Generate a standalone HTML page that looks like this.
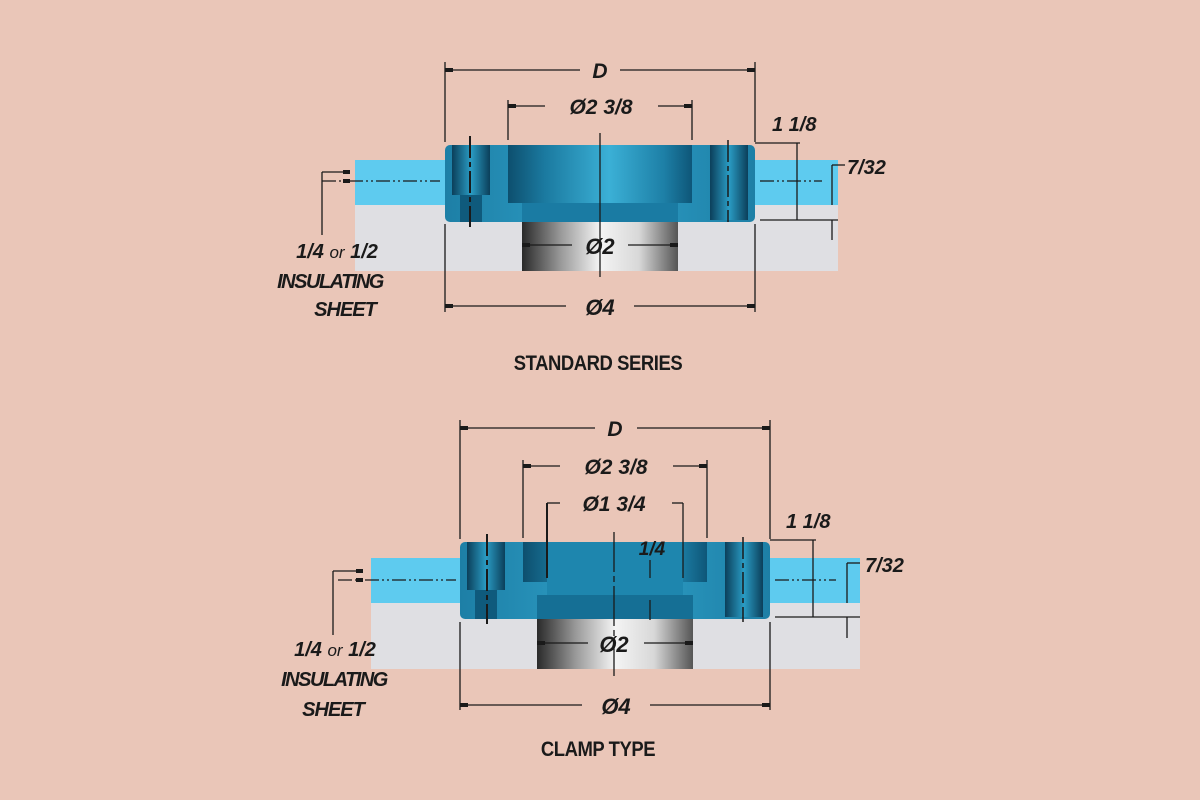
<!DOCTYPE html>
<html><head><meta charset="utf-8"><style>
html,body{margin:0;padding:0;background:#eac6b8;}
svg{display:block}
text{font-family:"Liberation Sans",sans-serif;font-style:italic;font-weight:bold;fill:#1a1a1a}
</style></head><body>
<svg width="1200" height="800" viewBox="0 0 1200 800" xmlns="http://www.w3.org/2000/svg">
<defs>
<linearGradient id="fl" x1="0" x2="1" y1="0" y2="0">
<stop offset="0" stop-color="#1d7fa6"/><stop offset="0.5" stop-color="#2fa0c8"/><stop offset="1" stop-color="#1d7fa6"/></linearGradient>
<linearGradient id="neck" x1="0" x2="1">
<stop offset="0" stop-color="#0d4f6e"/><stop offset="0.2" stop-color="#1b7aa0"/><stop offset="0.55" stop-color="#3bb0d6"/><stop offset="0.85" stop-color="#1d7fa6"/><stop offset="1" stop-color="#0e5678"/></linearGradient>
<linearGradient id="sil" x1="0" x2="1">
<stop offset="0" stop-color="#2a2a2a"/><stop offset="0.25" stop-color="#9a9a9a"/><stop offset="0.5" stop-color="#f4f4f4"/><stop offset="0.75" stop-color="#d8d8d8"/><stop offset="1" stop-color="#555"/></linearGradient>
<linearGradient id="hole" x1="0" x2="1">
<stop offset="0" stop-color="#0b3f5a"/><stop offset="0.5" stop-color="#2a9cc4"/><stop offset="1" stop-color="#0b3f5a"/></linearGradient>
</defs>

<!-- ===== TOP ===== -->
<rect x="355" y="160" width="483" height="45" fill="#5ecbef"/>
<rect x="355" y="205" width="483" height="66" fill="#dfdfe3"/>
<rect x="445" y="145" width="310" height="77" rx="5" fill="url(#fl)"/>
<rect x="508" y="145" width="184" height="58" fill="url(#neck)"/>
<rect x="522" y="203" width="156" height="19" fill="#1a7ba3"/>
<rect x="522" y="222" width="156" height="49" fill="url(#sil)"/>
<rect x="452" y="145" width="38" height="50" fill="url(#hole)"/>
<rect x="460" y="195" width="22" height="27" fill="#0f5a7c"/>
<rect x="710" y="145" width="38" height="75" fill="url(#hole)"/>
<g stroke="#1a1a1a" stroke-width="1.3" fill="none">
<line x1="445" y1="62" x2="445" y2="142"/><line x1="755" y1="62" x2="755" y2="142"/>
<line x1="445" y1="224" x2="445" y2="312"/><line x1="755" y1="224" x2="755" y2="312"/>
<line x1="445" y1="70" x2="580" y2="70"/><line x1="620" y1="70" x2="755" y2="70"/>
<line x1="508" y1="100" x2="508" y2="140"/><line x1="692" y1="100" x2="692" y2="140"/>
<line x1="508" y1="106" x2="545" y2="106"/><line x1="658" y1="106" x2="692" y2="106"/>
<line x1="522" y1="245" x2="572" y2="245"/><line x1="628" y1="245" x2="678" y2="245"/>
<line x1="445" y1="306" x2="566" y2="306"/><line x1="634" y1="306" x2="755" y2="306"/>
<line x1="600" y1="133" x2="600" y2="277"/>
<line x1="470" y1="136" x2="470" y2="227" stroke-width="2" stroke-dasharray="22 4 5 4"/>
<line x1="728" y1="140" x2="728" y2="222" stroke-width="1.5" stroke-dasharray="22 4 5 4"/>
<line x1="755" y1="143" x2="800" y2="143"/><line x1="797" y1="143" x2="797" y2="220"/>
<line x1="760" y1="220" x2="838" y2="220"/>
<line x1="832" y1="165" x2="845" y2="165"/><line x1="832" y1="165" x2="832" y2="205"/><line x1="832" y1="220" x2="832" y2="240"/>
<line x1="322" y1="181" x2="440" y2="181" stroke-dasharray="14 3 2 3 2 3"/>
<line x1="760" y1="181" x2="822" y2="181" stroke-dasharray="14 3 2 3 2 3"/>
<line x1="322" y1="172" x2="350" y2="172"/><line x1="322" y1="172" x2="322" y2="235"/>
</g>
<g fill="#1a1a1a">
<rect x="445" y="68" width="8" height="4"/><rect x="747" y="68" width="8" height="4"/>
<rect x="508" y="104" width="8" height="4"/><rect x="684" y="104" width="8" height="4"/>
<rect x="522" y="243" width="8" height="4"/><rect x="670" y="243" width="8" height="4"/>
<rect x="445" y="304" width="8" height="4"/><rect x="747" y="304" width="8" height="4"/>
<rect x="343" y="170" width="7" height="4"/><rect x="343" y="179" width="7" height="4"/>
</g>
<text x="600" y="78" font-size="21" text-anchor="middle">D</text>
<text x="601" y="114" font-size="21" text-anchor="middle">Ø2 3/8</text>
<text x="600" y="254" font-size="22" text-anchor="middle">Ø2</text>
<text x="600" y="315" font-size="22" text-anchor="middle">Ø4</text>
<text x="772" y="131" font-size="20">1 1/8</text>
<text x="847" y="174" font-size="20">7/32</text>
<text x="337" y="258" font-size="20" text-anchor="middle">1/4 <tspan font-size="17" font-weight="normal">or</tspan> 1/2</text>
<text x="330" y="288" font-size="20" text-anchor="middle" letter-spacing="-1.5">INSULATING</text>
<text x="345" y="316" font-size="20" text-anchor="middle" letter-spacing="-1">SHEET</text>
<text x="598" y="370" font-size="21" text-anchor="middle" style="font-style:normal" letter-spacing="-0.5" transform="translate(598 0) scale(0.88 1) translate(-598 0)">STANDARD SERIES</text>

<!-- ===== BOTTOM ===== -->
<rect x="371" y="558" width="489" height="45" fill="#5ecbef"/>
<rect x="371" y="603" width="489" height="66" fill="#dfdfe3"/>
<rect x="460" y="542" width="310" height="77" rx="5" fill="url(#fl)"/>
<rect x="523" y="542" width="184" height="40" fill="url(#neck)"/>
<rect x="547" y="542" width="136" height="53" fill="#1e86ae"/>
<rect x="537" y="595" width="156" height="24" fill="#156f95"/>
<rect x="537" y="619" width="156" height="50" fill="url(#sil)"/>
<rect x="467" y="542" width="38" height="48" fill="url(#hole)"/>
<rect x="475" y="590" width="22" height="29" fill="#0f5a7c"/>
<rect x="725" y="542" width="38" height="75" fill="url(#hole)"/>
<g stroke="#1a1a1a" stroke-width="1.3" fill="none">
<line x1="460" y1="420" x2="460" y2="539"/><line x1="770" y1="420" x2="770" y2="539"/>
<line x1="460" y1="622" x2="460" y2="710"/><line x1="770" y1="622" x2="770" y2="710"/>
<line x1="460" y1="428" x2="595" y2="428"/><line x1="637" y1="428" x2="770" y2="428"/>
<line x1="523" y1="460" x2="523" y2="538"/><line x1="707" y1="460" x2="707" y2="538"/>
<line x1="523" y1="466" x2="560" y2="466"/><line x1="673" y1="466" x2="707" y2="466"/>
<line x1="547" y1="503" x2="547" y2="578" stroke-width="2"/><line x1="683" y1="503" x2="683" y2="578"/>
<line x1="547" y1="503" x2="560" y2="503"/><line x1="672" y1="503" x2="683" y2="503"/>
<line x1="537" y1="643" x2="588" y2="643"/><line x1="644" y1="643" x2="693" y2="643"/>
<line x1="460" y1="705" x2="582" y2="705"/><line x1="650" y1="705" x2="770" y2="705"/>
<line x1="614" y1="532" x2="614" y2="676" stroke-dasharray="40 4 6 4"/>
<line x1="487" y1="534" x2="487" y2="624" stroke-width="2" stroke-dasharray="22 4 5 4"/>
<line x1="743" y1="537" x2="743" y2="622" stroke-width="1.5" stroke-dasharray="22 4 5 4"/>
<line x1="650" y1="560" x2="650" y2="578"/><line x1="650" y1="600" x2="650" y2="620"/>
<line x1="770" y1="540" x2="816" y2="540"/><line x1="813" y1="540" x2="813" y2="617"/>
<line x1="775" y1="617" x2="860" y2="617"/>
<line x1="847" y1="563" x2="860" y2="563"/><line x1="847" y1="563" x2="847" y2="603"/><line x1="847" y1="617" x2="847" y2="638"/>
<line x1="338" y1="580" x2="456" y2="580" stroke-dasharray="14 3 2 3 2 3"/>
<line x1="775" y1="580" x2="836" y2="580" stroke-dasharray="14 3 2 3 2 3"/>
<line x1="333" y1="571" x2="363" y2="571"/><line x1="333" y1="571" x2="333" y2="635"/>
</g>
<g fill="#1a1a1a">
<rect x="460" y="426" width="8" height="4"/><rect x="762" y="426" width="8" height="4"/>
<rect x="523" y="464" width="8" height="4"/><rect x="699" y="464" width="8" height="4"/>
<rect x="537" y="641" width="8" height="4"/><rect x="685" y="641" width="8" height="4"/>
<rect x="460" y="703" width="8" height="4"/><rect x="762" y="703" width="8" height="4"/>
<rect x="356" y="569" width="7" height="4"/><rect x="356" y="578" width="7" height="4"/>
</g>
<text x="615" y="436" font-size="21" text-anchor="middle">D</text>
<text x="616" y="474" font-size="21" text-anchor="middle">Ø2 3/8</text>
<text x="614" y="511" font-size="21" text-anchor="middle">Ø1 3/4</text>
<text x="652" y="555" font-size="19" text-anchor="middle">1/4</text>
<text x="614" y="652" font-size="22" text-anchor="middle">Ø2</text>
<text x="616" y="714" font-size="22" text-anchor="middle">Ø4</text>
<text x="786" y="528" font-size="20">1 1/8</text>
<text x="865" y="572" font-size="20">7/32</text>
<text x="335" y="656" font-size="20" text-anchor="middle">1/4 <tspan font-size="17" font-weight="normal">or</tspan> 1/2</text>
<text x="334" y="686" font-size="20" text-anchor="middle" letter-spacing="-1.5">INSULATING</text>
<text x="333" y="716" font-size="20" text-anchor="middle" letter-spacing="-1">SHEET</text>
<text x="598" y="756" font-size="21" text-anchor="middle" style="font-style:normal" letter-spacing="-0.5" transform="translate(598 0) scale(0.88 1) translate(-598 0)">CLAMP TYPE</text>
</svg>
</body></html>
